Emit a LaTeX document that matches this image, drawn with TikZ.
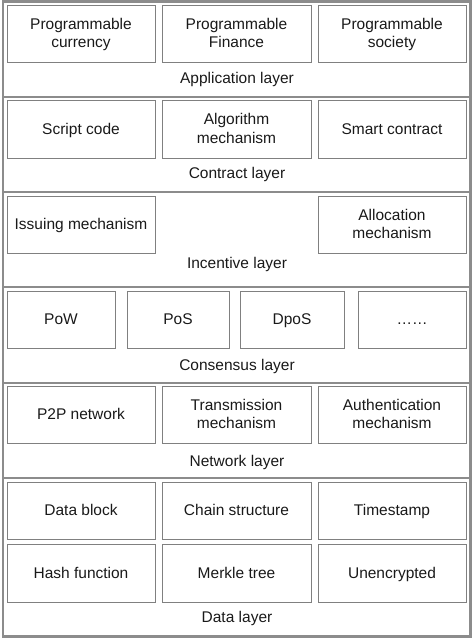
\documentclass[tikz,border=0pt]{standalone}
\usepackage{fontspec}
\setmainfont{Liberation Sans}
\newcommand{\firstl}[1]{\rule{0pt}{11.3pt}#1}
\newcommand{\lastl}[1]{\raisebox{0pt}[\height][0pt]{#1}\rule[-1.8pt]{0pt}{1pt}}
\begin{document}
\begin{tikzpicture}[x=1pt,y=-1pt,
  box/.style={draw=black!50,line width=0.9pt,inner sep=0pt,align=center,
    font=\fontsize{15.5}{18.5}\selectfont,text=black!90},
  one/.style={text height=11.5pt,text depth=1.5pt},
  lbl/.style={inner sep=0pt,font=\fontsize{15.5}{18.5}\selectfont,text=black!90,
    text height=11.5pt,text depth=1.5pt},
  frame/.style={draw=black!45,line width=2.2pt},
  sep/.style={draw=black!45,line width=2.2pt}]
\useasboundingbox (0,0) rectangle (474,641);
% frame
\draw[frame] (3,1.5) rectangle (470.5,636.5);
\coordinate (s1l) at (3,97);  \coordinate (s1r) at (470.5,97);
\coordinate (s2l) at (3,192); \coordinate (s2r) at (470.5,192);
\coordinate (s3l) at (3,287); \coordinate (s3r) at (470.5,287);
\coordinate (s4l) at (3,383); \coordinate (s4r) at (470.5,383);
\coordinate (s5l) at (3,478); \coordinate (s5r) at (470.5,478);
\draw[sep] (s1l) -- (s1r);
\draw[sep] (s2l) -- (s2r);
\draw[sep] (s3l) -- (s3r);
\draw[sep] (s4l) -- (s4r);
\draw[sep] (s5l) -- (s5r);
% Application layer
\node[box,minimum width=148pt,minimum height=57pt] (a1) at (81,33.5) {\firstl{Programmable}\\\lastl{currency}};
\node[box,minimum width=149pt,minimum height=57pt] (a2) at (236.5,33.5) {\firstl{Programmable}\\\lastl{Finance}};
\node[box,minimum width=148pt,minimum height=57pt] (a3) at (392,33.5) {\firstl{Programmable}\\\lastl{society}};
\node[lbl] (la) at (237,78) {Application layer};
% Contract layer
\node[box,one,minimum width=148pt,minimum height=58pt] (c1) at (81,129) {Script code};
\node[box,minimum width=149pt,minimum height=58pt] (c2) at (236.5,129) {\firstl{Algorithm}\\\lastl{mechanism}};
\node[box,one,minimum width=148pt,minimum height=58pt] (c3) at (392,129) {Smart contract};
\node[lbl] (lc) at (237,173) {Contract layer};
% Incentive layer
\node[box,one,minimum width=148pt,minimum height=57pt] (i1) at (81,224.5) {Issuing mechanism};
\node[box,minimum width=148pt,minimum height=57pt] (i3) at (392,224.5) {\firstl{Allocation}\\\lastl{mechanism}};
\node[lbl] (li) at (237,263) {Incentive layer};
% Consensus layer
\node[box,one,minimum width=108pt,minimum height=57pt] (k1) at (61,319.5) {PoW};
\node[box,one,minimum width=102pt,minimum height=57pt] (k2) at (178,319.5) {PoS};
\node[box,one,minimum width=104pt,minimum height=57pt] (k3) at (292,319.5) {DpoS};
\node[box,one,minimum width=108pt,minimum height=57pt] (k4) at (412,319.5) {……};
\node[lbl] (lk) at (237,365) {Consensus layer};
% Network layer
\node[box,one,minimum width=148pt,minimum height=57pt] (n1) at (81,414.5) {P2P network};
\node[box,minimum width=149pt,minimum height=57pt] (n2) at (236.5,414.5) {\firstl{Transmission}\\\lastl{mechanism}};
\node[box,minimum width=148pt,minimum height=57pt] (n3) at (392,414.5) {\firstl{Authentication}\\\lastl{mechanism}};
\node[lbl] (ln) at (237,461) {Network layer};
% Data layer
\node[box,one,minimum width=148pt,minimum height=57pt] (d1) at (81,510.5) {Data block};
\node[box,one,minimum width=149pt,minimum height=57pt] (d2) at (236.5,510.5) {Chain structure};
\node[box,one,minimum width=148pt,minimum height=57pt] (d3) at (392,510.5) {Timestamp};
\node[box,one,minimum width=148pt,minimum height=58pt] (d4) at (81,573) {Hash function};
\node[box,one,minimum width=149pt,minimum height=58pt] (d5) at (236.5,573) {Merkle tree};
\node[box,one,minimum width=148pt,minimum height=58pt] (d6) at (392,573) {Unencrypted};
\node[lbl] (ld) at (237,617) {Data layer};
\end{tikzpicture}
\end{document}
